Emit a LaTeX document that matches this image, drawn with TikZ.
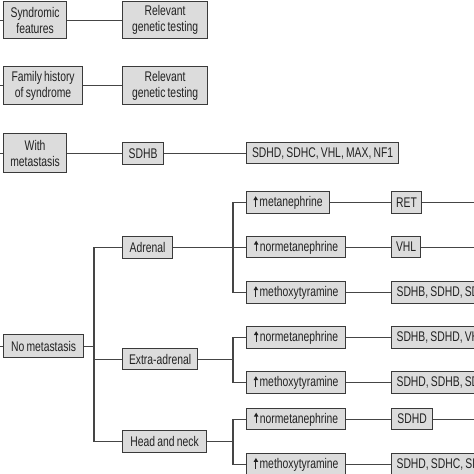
\documentclass[tikz,border=0pt]{standalone}
\usepackage{fontspec}
\setmainfont{Liberation Sans}[FakeStretch=0.74,WordSpace=0.75]
\usetikzlibrary{arrows.meta}
\definecolor{boxfill}{HTML}{DCDCDC}
\definecolor{boxline}{HTML}{3A3A3A}
\definecolor{conn}{HTML}{454545}
\definecolor{txt}{HTML}{222222}
\newcommand{\uparr}{\tikz[baseline=0pt,x=1pt,y=1pt]\draw[txt,line width=1.1pt,-{Triangle[length=4pt,width=4.4pt]}] (0,-0.3) -- (0,10.5);\hspace{1.5pt}}
\newcommand{\cuttext}[1]{\makebox[140pt][l]{#1}}
\begin{document}
\begin{tikzpicture}[x=1pt,y=-1pt,
  box/.style={draw=boxline,fill=boxfill,line width=1.2pt,inner sep=0pt,anchor=north west,
    text=txt,font=\fontsize{14}{16}\selectfont,align=center},
  cutbox/.style={box,inner xsep=5pt},
  link/.style={draw=conn,line width=1.1pt}]
\useasboundingbox (0,0) rectangle (474,474);
\clip (0,0) rectangle (474,474);
\fill[white] (0,0) rectangle (474,474);
% top rows
\node[box,minimum width=63pt,minimum height=37pt] (synd) at (3,1) {Syndromic\\features};
\node[box,minimum width=85pt,minimum height=37pt] (rel1) at (122,1) {Relevant\\genetic testing};
\node[box,minimum width=79pt,minimum height=38pt] (fam) at (3,66) {Family history\\of syndrome};
\node[box,minimum width=85pt,minimum height=38pt] (rel2) at (122,66) {Relevant\\genetic testing};
\node[box,minimum width=63pt,minimum height=39pt] (wmet) at (3,133) {With\\metastasis};
\node[box,minimum width=41pt,minimum height=22pt] (sdhb) at (122,142) {SDHB};
\node[box,minimum width=152pt,minimum height=21pt] (five) at (246,142) {SDHD, SDHC, VHL, MAX, NF1};
% no metastasis tree
\node[box,minimum width=80pt,minimum height=23pt] (nomet) at (3,334) {No metastasis};
\node[box,minimum width=50pt,minimum height=22pt] (adr) at (122,236) {Adrenal};
\node[box,minimum width=75pt,minimum height=21pt] (extra) at (122,348) {Extra-adrenal};
\node[box,minimum width=84pt,minimum height=22pt] (head) at (122,430) {Head and neck};
% adrenal
\node[box,minimum width=83pt,minimum height=22pt] (am) at (246,191) {\uparr metanephrine};
\node[box,minimum width=99pt,minimum height=21pt] (an) at (246,236) {\uparr normetanephrine};
\node[box,minimum width=99pt,minimum height=22pt] (amt) at (246,281) {\uparr methoxytyramine};
\node[box,minimum width=30pt,minimum height=22pt] (ret) at (391,191) {RET};
\node[box,minimum width=29pt,minimum height=21pt] (vhl) at (391,236) {VHL};
\node[cutbox,minimum height=22pt] (a3) at (391,281) {\cuttext{SDHB, SDHD, SDHC}};
% extra-adrenal
\node[box,minimum width=99pt,minimum height=22pt] (en) at (246,326) {\uparr normetanephrine};
\node[box,minimum width=99pt,minimum height=22pt] (emt) at (246,371) {\uparr methoxytyramine};
\node[cutbox,minimum height=22pt] (e1) at (391,326) {\cuttext{SDHB, SDHD, VHL}};
\node[cutbox,minimum height=22pt] (e2) at (391,371) {\cuttext{SDHD, SDHB, SDHC}};
% head and neck
\node[box,minimum width=99pt,minimum height=21pt] (hn) at (246,408) {\uparr normetanephrine};
\node[box,minimum width=99pt,minimum height=21.5pt] (hmt) at (246,453) {\uparr methoxytyramine};
\node[box,minimum width=41pt,minimum height=21pt] (sdhd) at (391,408) {SDHD};
\node[cutbox,minimum height=21.5pt] (h2) at (391,453) {\cuttext{SDHD, SDHC, SDHB}};
% free ends
\coordinate (L) at (0,0);
\coordinate (R) at (474,0);
\coordinate (T) at (94,0);
\coordinate (B) at (233,0);
% connectors
\draw[link] (L|-synd.west) -- (synd.west);
\draw[link] (L|-fam.west) -- (fam.west);
\draw[link] (L|-wmet.west) -- (wmet.west);
\draw[link] (L|-nomet.west) -- (nomet.west);
\draw[link] (synd.east) -- (synd.east-|rel1.west);
\draw[link] (fam.east) -- (fam.east-|rel2.west);
\draw[link] (wmet.east) -- (wmet.east-|sdhb.west);
\draw[link] (sdhb.east) -- (sdhb.east-|five.west);
\draw[link] (nomet.east) -- (nomet.east-|T);
\draw[link] (adr.west) -- (adr.west-|T) -- (head.west-|T) -- (head.west);
\draw[link] (extra.west-|T) -- (extra.west);
% adrenal bracket
\draw[link] (adr.east) -- (adr.east-|B);
\draw[link] (am.west) -- (am.west-|B) -- (amt.west-|B) -- (amt.west);
\draw[link] (an.west-|B) -- (an.west);
\draw[link] (am.east) -- (ret.west);
\draw[link] (ret.east) -- (ret.east-|R);
\draw[link] (an.east) -- (vhl.west);
\draw[link] (vhl.east) -- (vhl.east-|R);
\draw[link] (amt.east) -- (amt.east-|a3.west);
% extra-adrenal bracket
\draw[link] (extra.east) -- (extra.east-|B);
\draw[link] (en.west) -- (en.west-|B) -- (emt.west-|B) -- (emt.west);
\draw[link] (en.east) -- (en.east-|e1.west);
\draw[link] (emt.east) -- (emt.east-|e2.west);
% head and neck bracket
\draw[link] (head.east) -- (head.east-|B);
\draw[link] (hn.west) -- (hn.west-|B) -- (hmt.west-|B) -- (hmt.west);
\draw[link] (hn.east) -- (sdhd.west);
\draw[link] (sdhd.east) -- (sdhd.east-|R);
\draw[link] (hmt.east) -- (hmt.east-|h2.west);
\end{tikzpicture}
\end{document}
